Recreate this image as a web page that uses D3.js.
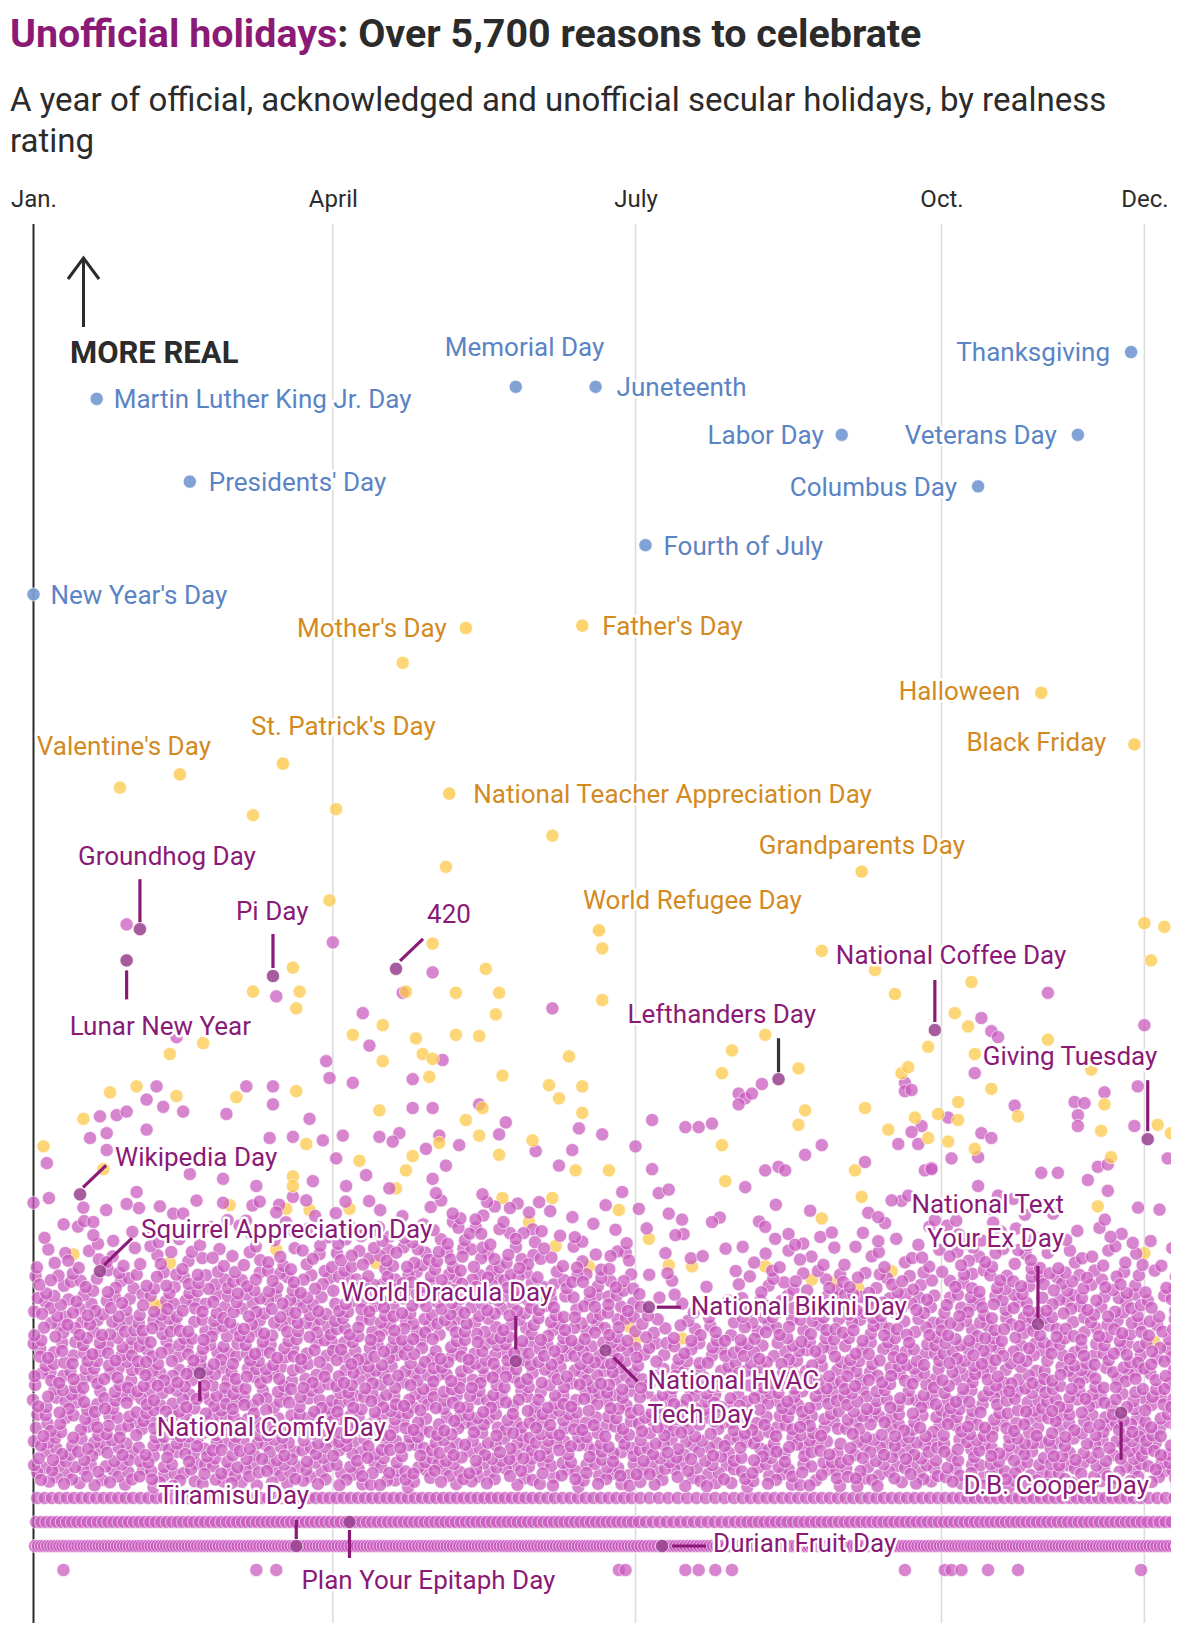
<!DOCTYPE html>
<html lang="en">
<head>
<meta charset="UTF-8">
<title>Unofficial holidays</title>
<script src="https://d3js.org/d3.v7.min.js"></script>
<style>
  body { margin: 0; background: #fff; }
  svg { display: block; font-family: Roboto, "Noto Sans", sans-serif; }
</style>
</head>
<body>
<script>
// ---- data (day = day of year, 0 = Jan 1; score = realness rating) ----
var tickNames = ["Jan.", "April", "July", "Oct.", "Dec."];
var tickDays = [0, 90, 181, 273, 334];
var monthStarts = [0, 31, 59, 90, 120, 151, 181, 212, 243, 273, 304, 334];
var monthLengths = [31, 28, 31, 30, 31, 30, 31, 31, 30, 31, 30, 31];

var officialNames = ["New Year's Day", "Martin Luther King Jr. Day", "Presidents' Day", "Memorial Day", "Juneteenth",
  "Fourth of July", "Labor Day", "Columbus Day", "Veterans Day", "Thanksgiving"];
var officialDays = [0, 19, 47, 145, 169, 184, 243, 284, 314, 330];
var officialScores = [79.3, 95.6, 88.7, 96.6, 96.6, 83.4, 92.6, 88.3, 92.6, 99.5];

var acknowledgedNames = ["Mother's Day", "Father's Day", "Halloween", "Black Friday", "Valentine's Day",
  "St. Patrick's Day", "National Teacher Appreciation Day", "Grandparents Day", "World Refugee Day"];
var acknowledgedDays = [130, 165, 303, 331, 44, 75, 125, 249, 170];
var acknowledgedScores = [76.5, 76.7, 71.1, 66.8, 64.3, 65.2, 62.7, 56.2, 51.3];

var featuredNames = ["Groundhog Day", "Lunar New Year", "Pi Day", "420", "Wikipedia Day", "Squirrel Appreciation Day",
  "National Comfy Day", "Tiramisu Day", "Plan Your Epitaph Day", "World Dracula Day", "National HVAC Tech Day",
  "National Bikini Day", "Durian Fruit Day", "Lefthanders Day", "National Coffee Day", "Giving Tuesday",
  "National Text Your Ex Day", "D.B. Cooper Day"];
var featuredDays = [32, 28, 72, 109, 14, 20, 50, 79, 95, 145, 172, 185, 189, 224, 271, 335, 302, 327];
var featuredScores = [51.4, 48.8, 47.5, 48.1, 29.3, 22.9, 14.4, 0, 2, 15.4, 16.3, 19.9, 0, 38.9, 43, 33.9, 18.5, 11.1];

// other acknowledged holidays [day, score]
var otherAcknowledged = [
  [26,63.2],[66,60.9],[91,61.4],[111,73.6],[124,56.6],[89,53.8],[78,48.2],[66,46.2],[80,46.2],[79,44.8],[96,42.6],[51,41.9],[156,59.2],
  [171,49.8],[171,45.5],[120,50.2],[136,48.1],[127,46.1],[140,46.1],[139,44.3],[105,43.4],[115,42.3],[127,42.6],[134,42.5],[117,41],
  [120,40.6],[105,40.4],[161,40.8],[119,39.1],[141,39.2],[155,38.4],[165,38.3],[158,37.3],[165,36.1],[135,36.5],[130,35.5],[134,34.2],
  [150,33.8],[140,32.6],[114,32.5],[122,33.6],[112,31.3],[163,31.3],[173,31.3],[220,42.6],[210,41.3],[207,39.4],[207,33.4],[208,30.4],
  [109,29.8],[141,29],[156,29],[104,36.3],[112,46.2],
  [237,49.6],[253,48],[259,46],[282,47],[277,44.4],[281,43.3],[269,41.6],[305,42.2],[283,41],[261,39.4],[263,39.9],[288,38.1],[278,37],
  [278,35.5],[272,36],[265,35.7],[257,34.7],[269,34],[275,33.7],[283,33.1],[296,35.8],[322,36.8],[321,34.6],[324,32.4],[318,39.7],
  [334,51.9],[340,51.6],[336,48.8],[338,35.1],[342,34.4],[250,36.5],[232,36.3],[230,35.1],[230,39.8],[247,31.3],
  [41,41],[31,38.3],[23,37.8],[43,37.5],[61,37.4],[79,37.9],[15,35.6],[3,33.3],[21,31.4],[82,33.5],[78,30.8],[78,30],[98,32.1],
  [59,28.4],[76,28.1],[83,28],[95,28.1],[73,24.7],[103,23.6],[41,23.6],[36,20.2],[12,24.3],
  [149,27],[157,25],[176,28],[167,23.3],[185,25.6],[191,23.4],[198,23.3],[220,23.3],[237,27.3],[234,22.2],[241,22],[249,29.1],
  [258,22.9],[248,21.5],[195,17.3],[179,18.3],[181,17.2],[38,20],[320,28.3],[334,24.4],[337,17]
];

// other unofficial holidays above the dense cloud [day, score]
var otherUnofficial = [
  [120,47.8],[111,46.1],[156,44.8],[123,40.5],[114,38.9],[114,36.5],[120,36.5],[134,36.8],[142,35.3],[140,34.3],[164,34.8],[171,34.3],
  [181,33.3],[186,35.5],[196,34.9],[200,34.9],[204,35.2],[212,37.7],[214,37.3],[212,36.8],[216,37.7],[219,38.5],[110,34.4],[108,33.7],
  [118,33.1],[122,34.2],[128,33.4],[151,32.9],[162,33],[124,31.7],[158,31.7],[186,31.4],[220,31.3],[120,30.6],[107,29.8],[121,29.4],
  [135,29.3],[177,29.5],[188,29.4],[191,29.7],[214,29.9],[224,31.6],
  [305,46.1],[285,44],[288,42.9],[290,42.4],[334,43.4],[283,39.4],[262,38.6],[262,37.9],[264,38],[332,38.3],[322,37.8],[313,37],
  [316,36.9],[314,35.9],[314,35],[295,36.7],[275,35.7],[267,35],[264,34.5],[266,33.5],[260,33.5],[285,34.4],[288,34],[331,35],
  [276,32.3],[284,32.4],[303,31.1],[308,31.1],[320,31.6],[323,31.8],[341,32.3],[237,33.4],[232,32.6],[226,31.3],[268,31.3],[270,31.5],
  [88,40.4],[89,39],[96,38.6],[37,38.3],[64,38.3],[72,38.3],[72,36.8],[34,37.2],[39,36.6],[45,36.2],[20,35.8],[25,35.9],[28,36.2],
  [34,34.7],[58,36],[83,35.6],[17,34],[22,34.4],[71,34],[78,34.1],[87,33.8],[93,34.2],[104,34.1],[22,33],[4,31.9],[47,31],[57,30.6],
  [67,30],[84,30.4],[100,30.9],[94,30],[78,29.1],[82,28.8],[73,27.8],[68,28.7],[0,28.6],[15,28.2],[31,29.5],[28,28.5],[18,27],
  [18,25.9],[38,28.3],[42,27.7],[45,27.7],[57,28.6],[91,32.3],
  [99,44.4],[101,41.7],[43,42.4],[90,50.3],[73,45.8],[28,51.8],
  [250,32],[182,28.1],[191,27.7],[195,27.2],[204,27],[220,26.6],[223,25.6],[227,26],[229,25.1],[254,27.4],[254,25.4],[258,28.8],
  [190,24.4],[193,25.9],[270,31.4],[284,30],[290,29.2],[323,29.6],[317,30.5],[263,29.2]
];

// the lowest ratings sit in rows; counts per month
var rowScores = [0, 2, 4];
var rowCounts = [
  [34, 30, 33, 31, 33, 32, 30, 33, 31, 34, 32, 30],
  [20, 17, 21, 19, 20, 19, 15, 18, 18, 20, 19, 17],
  [14, 12, 15, 14, 15, 13, 11, 13, 13, 14, 14, 12]
];
var belowRowDays = [9, 67, 73, 176, 178, 196, 200, 205, 210, 262, 274, 276, 279, 287, 296, 333];

// dense cloud of unofficial holidays: count per month at each rating level
var cloudScores = [6, 8, 10, 12, 14, 16, 18, 20, 22, 24, 26, 28];
var cloudCounts = [
  [27, 27, 26, 27, 26, 27, 26, 24, 19, 12, 6, 3],
  [25, 25, 25, 25, 24, 24, 24, 23, 20, 12, 6, 3],
  [27, 27, 27, 26, 27, 26, 26, 25, 23, 15, 8, 4],
  [27, 27, 27, 27, 26, 27, 26, 26, 25, 20, 13, 6],
  [27, 27, 27, 27, 27, 27, 26, 26, 25, 22, 17, 10],
  [27, 27, 26, 27, 26, 27, 25, 24, 21, 13, 7, 4],
  [27, 27, 27, 26, 24, 22, 16, 9, 5, 4, 2, 1],
  [27, 27, 27, 27, 26, 25, 24, 20, 16, 9, 4, 2],
  [26, 26, 26, 26, 25, 24, 24, 22, 17, 10, 5, 3],
  [27, 27, 27, 27, 27, 26, 26, 25, 22, 15, 9, 4],
  [26, 26, 26, 26, 26, 25, 24, 24, 21, 12, 6, 3],
  [27, 27, 27, 27, 26, 24, 22, 19, 14, 7, 4, 2]
];

// ---- label placement (offsets from the dot, px) ----
var labelLayout = {
  "New Year's Day": { dx: 17, dy: 0, anchor: "start" },
  "Martin Luther King Jr. Day": { dx: 17, dy: 0, anchor: "start" },
  "Presidents' Day": { dx: 19, dy: 0, anchor: "start" },
  "Memorial Day": { dx: -71, dy: -40, anchor: "start" },
  "Juneteenth": { dx: 21, dy: 0, anchor: "start" },
  "Fourth of July": { dx: 18, dy: 0, anchor: "start" },
  "Labor Day": { dx: -18, dy: 0, anchor: "end" },
  "Columbus Day": { dx: -21, dy: 0, anchor: "end" },
  "Veterans Day": { dx: -21, dy: 0, anchor: "end" },
  "Thanksgiving": { dx: -21, dy: 0, anchor: "end" },
  "Mother's Day": { dx: -19, dy: 0, anchor: "end" },
  "Father's Day": { dx: 20, dy: 0, anchor: "start" },
  "Halloween": { dx: -21, dy: -2, anchor: "end" },
  "Black Friday": { dx: -28, dy: -3, anchor: "end" },
  "Valentine's Day": { dx: -143, dy: -29, anchor: "start" },
  "St. Patrick's Day": { dx: -32, dy: -38, anchor: "start" },
  "National Teacher Appreciation Day": { dx: 24, dy: 0, anchor: "start" },
  "Grandparents Day": { dx: -103, dy: -27, anchor: "start" },
  "World Refugee Day": { dx: -16, dy: -31, anchor: "start" },
  "Groundhog Day": { dx: -62, dy: -74, anchor: "start", leader: [0, -50, 0, -7] },
  "Lunar New Year": { dx: -57, dy: 65, anchor: "start", leader: [0, 10, 0, 39] },
  "Pi Day": { dx: -37, dy: -65, anchor: "start", leader: [0, -42, 0, -8] },
  "420": { dx: 31, dy: -55, anchor: "start", leader: [4, -8, 27, -30] },
  "Wikipedia Day": { dx: 35, dy: -38, anchor: "start", leader: [3, -7, 26, -29] },
  "Squirrel Appreciation Day": { dx: 41, dy: -43, anchor: "start", leader: [4, -6, 32, -33] },
  "National Comfy Day": { dx: -43, dy: 53, anchor: "start", leader: [0, 8, 0, 28] },
  "Tiramisu Day": { dx: -138, dy: -51, anchor: "start", leader: [0, -26, 0, -7] },
  "Plan Your Epitaph Day": { dx: -48, dy: 58, anchor: "start", leader: [0, 8, 0, 36] },
  "World Dracula Day": { dx: -175, dy: -70, anchor: "start", leader: [0, -45, 0, -12] },
  "National HVAC Tech Day": { lines: ["National HVAC", "Tech Day"], dx: 42, dy: [29, 63], anchor: "start", leader: [8, 7, 32, 31] },
  "National Bikini Day": { dx: 42, dy: -2, anchor: "start", leader: [8, 0, 32, 0] },
  "Durian Fruit Day": { dx: 51, dy: -3, anchor: "start", leader: [10, 0, 44, 0] },
  "Lefthanders Day": { dx: -151, dy: -66, anchor: "start", leader: [0, -41, 0, -7], leaderColor: "#333" },
  "National Coffee Day": { dx: -99, dy: -75, anchor: "start", leader: [0, -50, 0, -8] },
  "Giving Tuesday": { dx: -165, dy: -84, anchor: "start", leader: [0, -59, 0, -8] },
  "National Text Your Ex Day": { lines: ["National Text", "Your Ex Day"], dx: 26, dy: [-120, -86], anchor: "end", leader: [0, -58, 0, -6] },
  "D.B. Cooper Day": { dx: 28, dy: 72, anchor: "end", leader: [0, 9, 0, 47] }
};

// ---- chart ----
var width = 1180, height = 1636;
var clipRight = 1171;
var colors = {
  official: "#7a9dd3", acknowledged: "#fcc84a", unofficial: "#c95cbf", featured: "#983f8f",
  officialText: "#5a84c5", acknowledgedText: "#d38a1f", unofficialText: "#8b1a77"
};

var x = d3.scaleLinear().domain([0, 365]).range([33.5, 33.5 + 365 * 3.326]);
var y = d3.scaleLinear().domain([0, 100]).range([1546, 346]);
var r = 6.6;

var svg = d3.select("body").append("svg")
  .attr("width", width)
  .attr("height", height);

svg.append("defs").append("clipPath").attr("id", "plot-clip")
  .append("rect").attr("x", 0).attr("y", 0).attr("width", clipRight).attr("height", height);

// title
var title = svg.append("text").attr("x", 10).attr("y", 47)
  .attr("font-size", 39.4).attr("font-weight", 700);
title.append("tspan").attr("fill", colors.unofficialText).text("Unofficial holidays");
title.append("tspan").attr("fill", "#2b2b2b").text(": Over 5,700 reasons to celebrate");

svg.append("text").attr("x", 10).attr("y", 111).attr("font-size", 33).attr("fill", "#2b2b2b")
  .text("A year of official, acknowledged and unofficial secular holidays, by realness");
svg.append("text").attr("x", 10).attr("y", 152).attr("font-size", 33).attr("fill", "#2b2b2b")
  .text("rating");

// month axis
var axis = svg.append("g").attr("transform", "translate(0,207)")
  .call(d3.axisTop(x).tickValues(tickDays).tickFormat(function(d, i) { return tickNames[i]; }).tickSize(0).tickPadding(0));
axis.select(".domain").remove();
axis.selectAll("text").attr("font-size", 24).attr("fill", "#2b2b2b").attr("font-family", "Roboto, sans-serif");

svg.append("g").selectAll("line")
  .data(tickDays)
  .enter()
  .append("line")
  .attr("x1", function(d) { return x(d); })
  .attr("x2", function(d) { return x(d); })
  .attr("y1", 224)
  .attr("y2", 1623)
  .attr("stroke", function(d) { return d === 0 ? "#2b2b2b" : "#dcdcdc"; })
  .attr("stroke-width", function(d) { return d === 0 ? 2 : 1.6; });

// "more real" marker
svg.append("path")
  .attr("d", "M83.5,327 V258 M68,279 L83.5,258 L99,279")
  .attr("fill", "none").attr("stroke", "#2b2b2b").attr("stroke-width", 3);
svg.append("text").attr("x", 70).attr("y", 363).attr("font-size", 31).attr("font-weight", 700)
  .attr("fill", "#2b2b2b").text("MORE REAL");

// ---- build nodes ----
function fixedNode(day, score, kind) {
  var px = x(day), py = y(score);
  return { x: px, y: py, fx: px, fy: py, kind: kind };
}

// Halton sequence, used to spread a cell's holidays evenly without a grid look
function halton(i, base) {
  var f = 1, res = 0;
  while (i > 0) {
    f = f / base;
    res += f * (i % base);
    i = Math.floor(i / base);
  }
  return res;
}

var lowNodes = [];
rowScores.forEach(function(s, ri) {
  rowCounts[ri].forEach(function(n, mi) {
    for (var i = 0; i < n; i++) {
      lowNodes.push(fixedNode(monthStarts[mi] + (i + 0.5) * monthLengths[mi] / n, s, "unofficial"));
    }
  });
});
belowRowDays.forEach(function(d) { lowNodes.push(fixedNode(d, -2, "unofficial")); });

var ackNodes = otherAcknowledged.map(function(p) { return fixedNode(p[0], p[1], "acknowledged"); });
var sparseNodes = otherUnofficial.map(function(p) { return fixedNode(p[0], p[1], "unofficial"); });

var labeled = [];
officialNames.forEach(function(n, i) { labeled.push({ name: n, day: officialDays[i], score: officialScores[i], kind: "official" }); });
acknowledgedNames.forEach(function(n, i) { labeled.push({ name: n, day: acknowledgedDays[i], score: acknowledgedScores[i], kind: "acknowledged" }); });
featuredNames.forEach(function(n, i) { labeled.push({ name: n, day: featuredDays[i], score: featuredScores[i], kind: "featured" }); });
var labeledNodes = labeled.map(function(d) {
  var nd = fixedNode(d.day, d.score, d.kind);
  nd.name = d.name;
  return nd;
});

// each cell (month x rating level) is spread over its month and its 2-point
// rating band, then the swarm settles so the dots don't pile up
var cloudNodes = [];
cloudCounts.forEach(function(counts, mi) {
  counts.forEach(function(n, li) {
    var start = 1 + mi * 41 + li * 23;
    for (var i = 0; i < n; i++) {
      var day = monthStarts[mi] + halton(start + i, 3) * monthLengths[mi];
      var score = cloudScores[li] + (halton(start + i, 2) - 0.5) * 2;
      var tx = x(day), ty = y(score);
      cloudNodes.push({ tx: tx, ty: ty, x: tx, y: ty, kind: "unofficial" });
    }
  });
});

var fixedNodes = lowNodes.concat(ackNodes, sparseNodes, labeledNodes);

var sim = d3.forceSimulation(cloudNodes.concat(fixedNodes))
  .force("x", d3.forceX(function(d) { return d.tx != null ? d.tx : d.fx; }).strength(0.04))
  .force("y", d3.forceY(function(d) { return d.ty != null ? d.ty : d.fy; }).strength(0.04))
  .force("collide", d3.forceCollide(4.1).strength(0.45))
  .stop();

var yFloor = y(4.6), xMin = x(0) - 2;
for (var t = 0; t < 140; t++) {
  sim.tick();
  cloudNodes.forEach(function(n) {
    if (n.y > yFloor) n.y = yFloor;
    if (n.x < xMin) n.x = xMin;
  });
}

// ---- draw dots ----
var dots = svg.append("g").attr("clip-path", "url(#plot-clip)");

function drawDots(nodes, fill, opacity) {
  dots.append("g").selectAll("circle")
    .data(nodes)
    .enter()
    .append("circle")
    .attr("cx", function(d) { return d.x; })
    .attr("cy", function(d) { return d.y; })
    .attr("r", r)
    .attr("fill", fill)
    .attr("fill-opacity", opacity)
    .attr("stroke", "#fff")
    .attr("stroke-opacity", 0.6)
    .attr("stroke-width", 1);
}

drawDots(ackNodes.filter(function(d) { return d.fy > y(30); }), colors.acknowledged, 0.75);
drawDots(lowNodes.concat(cloudNodes), colors.unofficial, 0.75);
drawDots(sparseNodes, colors.unofficial, 0.75);
drawDots(ackNodes.filter(function(d) { return d.fy <= y(30); }), colors.acknowledged, 0.75);
drawDots(labeledNodes.filter(function(d) { return d.kind === "acknowledged"; }), colors.acknowledged, 0.8);
drawDots(labeledNodes.filter(function(d) { return d.kind === "official"; }), colors.official, 0.95);
drawDots(labeledNodes.filter(function(d) { return d.kind === "featured"; }), colors.featured, 0.85);

// ---- annotations ----
var notes = svg.append("g");
labeledNodes.forEach(function(d) {
  var lay = labelLayout[d.name];
  var color = d.kind === "official" ? colors.officialText
    : d.kind === "acknowledged" ? colors.acknowledgedText : colors.unofficialText;

  if (lay.leader) {
    notes.append("line")
      .attr("x1", d.x + lay.leader[0]).attr("y1", d.y + lay.leader[1])
      .attr("x2", d.x + lay.leader[2]).attr("y2", d.y + lay.leader[3])
      .attr("stroke", lay.leaderColor || colors.unofficialText)
      .attr("stroke-width", 3.2);
  }

  var lines = lay.lines || [d.name];
  var dys = Array.isArray(lay.dy) ? lay.dy : [lay.dy];
  lines.forEach(function(line, i) {
    notes.append("text")
      .attr("x", d.x + lay.dx)
      .attr("y", d.y + dys[i])
      .attr("dy", "0.36em")
      .attr("text-anchor", lay.anchor)
      .attr("font-size", 26)
      .attr("fill", color)
      .attr("stroke", "#fff")
      .attr("stroke-width", 5)
      .attr("stroke-linejoin", "round")
      .attr("paint-order", "stroke")
      .text(line);
  });
});
</script>
</body>
</html>
